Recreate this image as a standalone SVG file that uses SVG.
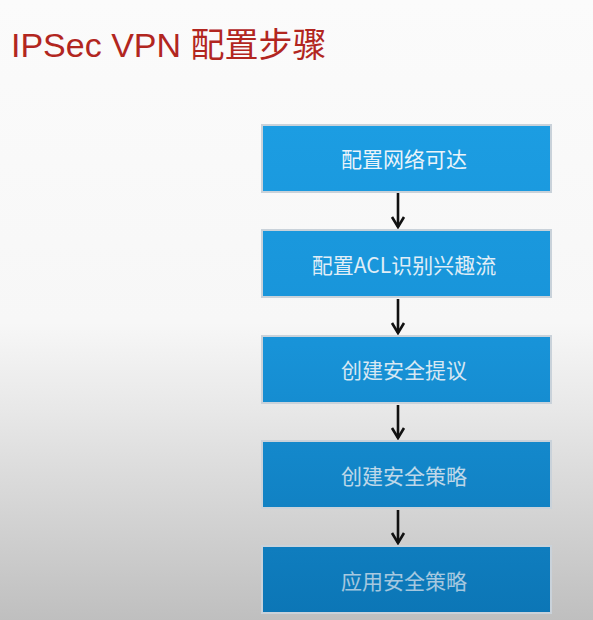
<svg xmlns="http://www.w3.org/2000/svg" width="593" height="620" viewBox="0 0 593 620">
  <defs>
    <linearGradient id="bg" x1="0" y1="0" x2="0" y2="1">
      <stop offset="0" stop-color="#fbfbfb"/>
      <stop offset="0.52" stop-color="#f7f7f7"/>
      <stop offset="0.66" stop-color="#e8e8e8"/>
      <stop offset="1" stop-color="#bfbfbf"/>
    </linearGradient>
    <linearGradient id="boxfill" gradientUnits="userSpaceOnUse" x1="0" y1="125" x2="0" y2="613">
      <stop offset="0" stop-color="#1c9de2"/>
      <stop offset="0.45" stop-color="#1893d8"/>
      <stop offset="1" stop-color="#0c76b6"/>
    </linearGradient>
    <linearGradient id="txtfill" gradientUnits="userSpaceOnUse" x1="0" y1="125" x2="0" y2="613">
      <stop offset="0" stop-color="#eef5fb"/>
      <stop offset="0.5" stop-color="#d8e8f3"/>
      <stop offset="1" stop-color="#9fc3dc"/>
    </linearGradient>
    <marker id="head" markerUnits="userSpaceOnUse" markerWidth="16" markerHeight="18" viewBox="-13 -9 16 18" refX="0" refY="0" orient="auto">
      <path d="M-10,-6 L0,0 L-10,6" fill="none" stroke="#111" stroke-width="2.6" stroke-linejoin="miter"/>
    </marker>
  </defs>
  <style>
    .box { fill: url(#boxfill); stroke: #c9d2da; stroke-width: 2; }
    .lbl { font-family: "Noto Sans CJK SC", "Liberation Sans", sans-serif; font-size: 21px; fill: url(#txtfill); text-anchor: middle; dominant-baseline: central; }
    .conn { stroke: #111; stroke-width: 2.6; fill: none; marker-end: url(#head); }
    .title { font-family: "Liberation Sans", "Noto Sans CJK SC", sans-serif; font-size: 34px; fill: #b2261f; }
  </style>
  <rect x="0" y="0" width="593" height="620" fill="url(#bg)"/>
  <text class="title" x="11" y="57">IPSec VPN 配置步骤</text>

  <g id="connectors">
    <path class="conn" d="M398,193 L398,227"/>
    <path class="conn" d="M398,299 L398,333"/>
    <path class="conn" d="M398,405 L398,438"/>
    <path class="conn" d="M398,510 L398,543"/>
  </g>

  <g id="n1">
    <rect class="box" x="262" y="125" width="289" height="67"/>
    <text class="lbl" x="404" y="158">配置网络可达</text>
  </g>
  <g id="n2">
    <rect class="box" x="262" y="230" width="289" height="67"/>
    <text class="lbl" x="404" y="264">配置ACL识别兴趣流</text>
  </g>
  <g id="n3">
    <rect class="box" x="262" y="336" width="289" height="67"/>
    <text class="lbl" x="404" y="369">创建安全提议</text>
  </g>
  <g id="n4">
    <rect class="box" x="262" y="441" width="289" height="67"/>
    <text class="lbl" x="404" y="475">创建安全策略</text>
  </g>
  <g id="n5">
    <rect class="box" x="262" y="546" width="289" height="67"/>
    <text class="lbl" x="404" y="580">应用安全策略</text>
  </g>
</svg>
